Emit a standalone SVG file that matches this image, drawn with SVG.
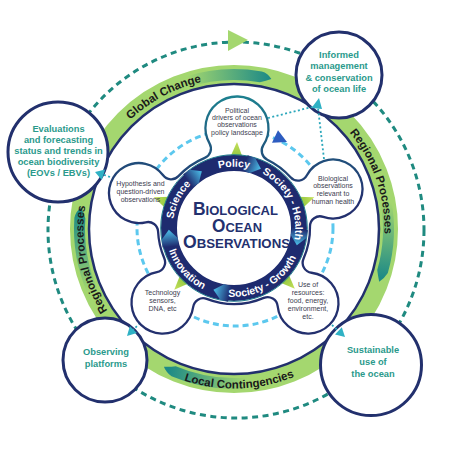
<svg xmlns="http://www.w3.org/2000/svg" width="450" height="450" viewBox="0 0 450 450">
<defs>
<style>
.node-t{font-family:"Liberation Sans",Arial,sans-serif;font-weight:bold;font-size:9.3px;fill:#2b9a8c;text-anchor:middle}
.pet-t{font-family:"Liberation Sans",Arial,sans-serif;font-size:7px;fill:#3c3c50;text-anchor:middle}
.band-t{font-family:"Liberation Sans",Arial,sans-serif;font-weight:bold;font-size:11.5px;fill:#1a1a1a}
.ring-t{font-family:"Liberation Sans",Arial,sans-serif;font-weight:bold;font-size:10.5px;fill:#ffffff}
.big{fill:#ffffff;stroke:#22306d;stroke-width:3}
.dot{fill:none;stroke:#2aa7bb;stroke-width:1.8;stroke-dasharray:2 2.4}
.ah{fill:#2fb1c4}
.lime{fill:url(#limeG)}
.tip{fill:url(#tipG)}
.ctr{font-family:"Liberation Sans",Arial,sans-serif;font-weight:bold;fill:#23306e;text-anchor:middle}
</style>
<linearGradient id="limeG" x1="0" y1="0" x2="1" y2="0"><stop offset="0" stop-color="#8cc63f"/><stop offset="1" stop-color="#c8e05a"/></linearGradient>
<linearGradient id="tipG" x1="0" y1="0" x2="0" y2="1"><stop offset="0" stop-color="#1e2b6f"/><stop offset="1" stop-color="#4cc0ea"/></linearGradient>
<linearGradient id="flowerG" gradientUnits="userSpaceOnUse" x1="0" y1="95" x2="0" y2="200"><stop offset="0" stop-color="#1d8190"/><stop offset="1" stop-color="#23306e"/></linearGradient>
<linearGradient id="gGlobal" gradientUnits="userSpaceOnUse" x1="187" y1="80" x2="270" y2="76"><stop offset="0" stop-color="#a4d76f"/><stop offset="1" stop-color="#1d8a86"/></linearGradient>
<linearGradient id="gRegR" gradientUnits="userSpaceOnUse" x1="386" y1="202" x2="382" y2="278"><stop offset="0" stop-color="#a4d76f"/><stop offset="1" stop-color="#1d8a86"/></linearGradient>
<linearGradient id="gLocal" gradientUnits="userSpaceOnUse" x1="247" y1="383" x2="168" y2="371"><stop offset="0" stop-color="#a4d76f"/><stop offset="1" stop-color="#1d8a86"/></linearGradient>
<linearGradient id="gRegL" gradientUnits="userSpaceOnUse" x1="92" y1="292" x2="80" y2="212"><stop offset="0" stop-color="#a4d76f"/><stop offset="1" stop-color="#1d8a86"/></linearGradient>
<path id="tpGlobal" d="M 83.59,223.75 A 150.5 150.5 0 0 1 313.75,101.37"/>
<path id="tpRegR" d="M 262.72,81.27 A 150.5 150.5 0 0 1 347.58,327.74"/>
<path id="tpRegL" d="M 187.49,372.14 A 150.5 150.5 0 0 1 133.3,117.16"/>
<path id="tpLocal" d="M 98.74,313.52 A 159.5 159.5 0 0 0 374.82,303.88"/>
<path id="tpPolicy" d="M 180.91,197.35 A 61.3 61.3 0 0 1 287.09,197.35"/>
<path id="tpHealth" d="M 238.28,166.85 A 61.3 61.3 0 0 1 284.82,262.28"/>
<path id="tpScience" d="M 182.59,261.38 A 61.3 61.3 0 0 1 230.79,166.78"/>
<path id="tpGrowth" d="M 199.6,287.58 A 68.8 68.8 0 0 0 302.8,228"/>
<path id="tpInnov" d="M 168.95,205.6 A 68.8 68.8 0 0 0 247.13,295.54"/>
<path id="limeTri" d="M70,-6.5 L86,0 L70,6.5 Z"/>
<path id="ringTip" d="M57,-12 L73,-12 L73,-4 L65,5 L57,-4 Z"/>
</defs>
<rect width="450" height="450" fill="#ffffff"/>

<g id="outer-cycle">
<circle cx="236" cy="230" r="188" fill="none" stroke="#1f8a80" stroke-width="3" stroke-dasharray="6 4.5"/>
<polygon points="228,30 228,51 248,40" fill="#a4d76f"/>
</g>

<g id="bands">
<circle cx="234" cy="229" r="154.5" fill="none" stroke="#a4d76f" stroke-width="19"/>
<path d="M 184.56,76.82 A 160 160 0 0 1 261.78,71.43 Q 268,73 271.37,79.09 Q 266,81 259.87,82.26 A 149 149 0 0 0 187.96,87.29 Z" fill="url(#gGlobal)"/>
<path d="M 391.57,201.22 A 160 160 0 0 1 387.81,273.10 Q 384,279 379.18,281.84 Q 378,276 377.23,270.06 A 149 149 0 0 0 380.74,203.13 Z" fill="url(#gRegR)"/>
<path d="M 247.94,388.39 A 160 160 0 0 1 171.49,376.28 Q 166,372 163.86,366.66 Q 170,367 175.79,366.15 A 149 149 0 0 0 246.99,377.43 Z" fill="url(#gLocal)"/>
<path d="M 87.83,294.08 A 160 160 0 0 1 74.38,217.84 Q 76,211 81.0,207.5 Q 84,213 85.36,218.60 A 149 149 0 0 0 97.88,289.60 Z" fill="url(#gRegL)"/>
<circle cx="234" cy="229" r="145" fill="none" stroke="#22306d" stroke-width="2.5"/>
<text class="band-t"><textPath href="#tpGlobal" startOffset="50%" text-anchor="middle">Global Change</textPath></text>
<text class="band-t"><textPath href="#tpRegR" startOffset="50%" text-anchor="middle">Regional Processes</textPath></text>
<text class="band-t"><textPath href="#tpRegL" startOffset="50%" text-anchor="middle">Regional Processes</textPath></text>
<text class="band-t"><textPath href="#tpLocal" startOffset="50%" text-anchor="middle">Local Contingencies</textPath></text>
</g>

<g id="node-evaluations">
<circle class="big" cx="58" cy="152" r="50"/>
<text class="node-t"><tspan x="58.5" y="131.5">Evaluations</tspan><tspan x="58.5" y="142.7">and forecasting</tspan><tspan x="58.5" y="153.9">status and trends in</tspan><tspan x="58.5" y="165.1">ocean biodiversity</tspan><tspan x="58.5" y="176.3">(EOVs / EBVs)</tspan></text>
</g>
<g id="node-informed">
<circle class="big" cx="339" cy="75" r="43"/>
<text class="node-t"><tspan x="339" y="58">Informed</tspan><tspan x="339" y="69.3">management</tspan><tspan x="339" y="80.6">&amp; conservation</tspan><tspan x="339" y="91.5">of ocean life</tspan></text>
</g>
<g id="node-observing">
<circle class="big" cx="105" cy="360" r="42"/>
<text class="node-t"><tspan x="106" y="355">Observing</tspan><tspan x="106" y="366.7">platforms</tspan></text>
</g>
<g id="node-sustainable">
<circle class="big" cx="371" cy="365" r="50.5"/>
<text class="node-t"><tspan x="373" y="352.7">Sustainable</tspan><tspan x="373" y="365">use of</tspan><tspan x="373" y="377.3">the ocean</tspan></text>
</g>

<g id="inner-cycle">
<circle cx="235" cy="228" r="98" fill="none" stroke="#5cc8ee" stroke-width="3" stroke-dasharray="6 4"/>
<polygon points="287,142 278,130.2 272,142.8" fill="#2d5cc0"/>
</g>

<g id="connectors">
<path class="dot" d="M 268,118 L 312,107"/>
<path class="dot" d="M 324,159 L 318,108"/>
<polygon class="ah" points="319,98 311.5,108 322,109"/>
<path class="dot" d="M 110,177 L 103,174.5"/>
<polygon class="ah" points="95,172 105.2,169.6 101.8,180.1"/>
<path class="dot" d="M 140,323 L 133,330"/>
<polygon class="ah" points="127,336 136.9,333.1 129.9,326.1"/>
<path class="dot" d="M 332,325 L 338.5,331"/>
<polygon class="ah" points="345,337 335,334.6 341.8,327.2"/>
</g>

<g id="hub-outline">
<path d="M 204.79,157.84 A 10 10 0 0 0 209.63,143.64 A 31.5 31.5 0 1 1 263.33,145.23 A 10 10 0 0 0 267.32,159.69 A 76 76 0 0 1 290.57,177.25 A 10 10 0 0 0 306.89,175.26 A 29.5 29.5 0 1 1 323.28,216.86 A 10 10 0 0 0 309.99,226.52 A 76 76 0 0 1 303.50,258.76 A 10 10 0 0 0 311.50,272.75 A 30.5 30.5 0 1 1 277.66,306.12 A 10 10 0 0 0 263.78,297.92 A 76 76 0 0 1 206.70,298.93 A 10 10 0 0 0 193.20,306.87 A 31 31 0 1 1 156.90,272.06 A 10 10 0 0 0 164.28,258.24 A 76 76 0 0 1 158.08,231.54 A 10 10 0 0 0 145.83,222.27 A 30 30 0 1 1 163.12,175.24 A 10 10 0 0 0 178.47,176.11 A 76 76 0 0 1 204.79,157.84 Z" fill="#ffffff" stroke="url(#flowerG)" stroke-width="2.3"/>
<g transform="translate(234 228)">
<use href="#limeTri" class="lime" transform="rotate(-88)"/>
<use href="#limeTri" class="lime" transform="rotate(-21)"/>
<use href="#limeTri" class="lime" transform="rotate(45)"/>
<use href="#limeTri" class="lime" transform="rotate(134)"/>
<use href="#limeTri" class="lime" transform="rotate(201)"/>
</g>
</g>

<g id="node-hub">
<circle cx="234" cy="228" r="65" fill="none" stroke="#1e2b6f" stroke-width="16"/>
<circle cx="234" cy="228" r="73.3" fill="none" stroke="#1f7d8c" stroke-width="1"/>
<g transform="translate(234 228)">
<use href="#ringTip" class="tip" transform="rotate(-70)"/>
<use href="#ringTip" class="tip" transform="rotate(11)"/>
<use href="#ringTip" class="tip" transform="rotate(104)"/>
<use href="#ringTip" class="tip" transform="rotate(174)"/>
<use href="#ringTip" class="tip" transform="rotate(236)"/>
</g>
<text class="ring-t"><textPath href="#tpPolicy" startOffset="50%" text-anchor="middle">Policy</textPath></text>
<text class="ring-t"><textPath href="#tpHealth" startOffset="24.8">Society</textPath></text>
<text class="ring-t"><textPath href="#tpHealth" startOffset="65">-</textPath></text>
<text class="ring-t"><textPath href="#tpHealth" startOffset="71.4">Health</textPath></text>
<text class="ring-t"><textPath href="#tpScience" startOffset="50%" text-anchor="middle">Science</textPath></text>
<text class="ring-t"><textPath href="#tpGrowth" startOffset="30.2">Society</textPath></text>
<text class="ring-t"><textPath href="#tpGrowth" startOffset="70.4">-</textPath></text>
<text class="ring-t"><textPath href="#tpGrowth" startOffset="76.8">Growth</textPath></text>
<text class="ring-t"><textPath href="#tpInnov" startOffset="45.5">Inno</textPath></text>
<text class="ring-t"><textPath href="#tpInnov" startOffset="67.7">vation</textPath></text>
<text class="ctr" x="235.5" y="215" textLength="85" lengthAdjust="spacingAndGlyphs"><tspan font-size="18">B</tspan><tspan font-size="13.5">IOLOGICAL</tspan></text>
<text class="ctr" x="237" y="231.7" textLength="50" lengthAdjust="spacingAndGlyphs"><tspan font-size="18">O</tspan><tspan font-size="13.5">CEAN</tspan></text>
<text class="ctr" x="236.5" y="248" textLength="107" lengthAdjust="spacingAndGlyphs"><tspan font-size="18">O</tspan><tspan font-size="13.5">BSERVATIONS</tspan></text>
</g>

<g id="node-political">
<text class="pet-t"><tspan x="237" y="112.7">Political</tspan><tspan x="237" y="120">drivers of ocean</tspan><tspan x="237" y="127.3">observations</tspan><tspan x="237" y="135">policy landscape</tspan></text>
</g>
<g id="node-health">
<text class="pet-t"><tspan x="333" y="180.7">Biological</tspan><tspan x="333" y="188.3">observations</tspan><tspan x="333" y="196">relevant to</tspan><tspan x="333" y="204">human health</tspan></text>
</g>
<g id="node-resources">
<text class="pet-t"><tspan x="308" y="287.3">Use of</tspan><tspan x="308" y="295">resources:</tspan><tspan x="308" y="302.7">food, energy,</tspan><tspan x="308" y="311">environment,</tspan><tspan x="308" y="319">etc.</tspan></text>
</g>
<g id="node-technology">
<text class="pet-t"><tspan x="162.5" y="295">Technology</tspan><tspan x="162.5" y="303.3">sensors,</tspan><tspan x="162.5" y="311.3">DNA, etc</tspan></text>
</g>
<g id="node-hypothesis">
<text class="pet-t"><tspan x="140.5" y="186">Hypothesis and</tspan><tspan x="140.5" y="194">question-driven</tspan><tspan x="140.5" y="202.3">observations</tspan></text>
</g>
</svg>
